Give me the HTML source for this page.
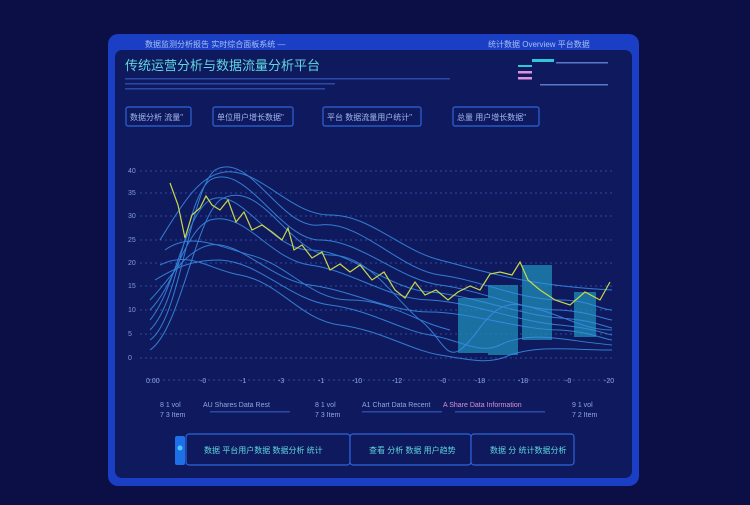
<!DOCTYPE html>
<html><head><meta charset="utf-8"><style>
body{margin:0;width:750px;height:500px;background:#0c0f45;overflow:hidden;font-family:"Liberation Sans","Noto Sans CJK SC",sans-serif}
</style></head><body>
<svg width="750" height="500" viewBox="0 0 750 500" xmlns="http://www.w3.org/2000/svg" font-family="Liberation Sans, Noto Sans CJK SC, sans-serif">
<rect width="750" height="500" fill="#0c0f45"/>
<rect x="108" y="34" width="531" height="452" rx="10" fill="#1a3ec4"/>
<rect x="115" y="50" width="517" height="428" rx="7" fill="#0f1a5e"/>
<text x="145" y="47" font-size="8" fill="#a8c0f0">数据监测分析报告 实时综合面板系统 —</text>
<text x="488" y="47" font-size="8" fill="#a8c0f0">统计数据 Overview 平台数据</text>
<text x="125" y="70" font-size="13" fill="#5fd6e0">传统运营分析与数据流量分析平台</text>
<g fill="#2b4aa8"><rect x="125" y="78" width="325" height="1.5"/><rect x="125" y="83" width="210" height="1.5"/><rect x="125" y="88" width="200" height="1.5"/></g>
<rect x="532" y="59" width="22" height="3" fill="#30c8d8"/><rect x="518" y="65" width="14" height="2" fill="#30c8d8"/>
<rect x="518" y="71" width="14" height="2.5" fill="#e090e0"/><rect x="518" y="77" width="14" height="2.5" fill="#e090e0"/>
<rect x="556" y="62" width="52" height="1.5" fill="#5a78c8"/><rect x="540" y="84" width="68" height="1.5" fill="#5a78c8"/>
<g fill="none" stroke="#2e63d8" stroke-width="1.2">
<rect x="126" y="107" width="65" height="19" rx="2"/><rect x="213" y="107" width="80" height="19" rx="2"/>
<rect x="323" y="107" width="98" height="19" rx="2"/><rect x="453" y="107" width="86" height="19" rx="2"/></g>
<g font-size="8" fill="#9fb8f0"><text x="130" y="120">数据分析 流量"</text><text x="217" y="120">单位用户增长数据"</text><text x="327" y="120">平台 数据流量用户统计"</text><text x="457" y="120">总量 用户增长数据"</text></g>
<g stroke="#3c56b0" stroke-dasharray="2 3" stroke-width="0.8">
<line x1="140" y1="171" x2="612" y2="171"/><line x1="140" y1="193" x2="612" y2="193"/><line x1="140" y1="216" x2="612" y2="216"/><line x1="140" y1="240" x2="612" y2="240"/><line x1="140" y1="263" x2="612" y2="263"/><line x1="140" y1="286" x2="612" y2="286"/><line x1="140" y1="310" x2="612" y2="310"/><line x1="140" y1="334" x2="612" y2="334"/><line x1="140" y1="358" x2="612" y2="358"/><line x1="148" y1="380" x2="612" y2="380"/></g>
<g font-size="7" fill="#7f9ae0"><text x="128" y="173">40</text><text x="128" y="195">35</text><text x="128" y="218">30</text><text x="128" y="242">25</text><text x="128" y="265">20</text><text x="128" y="288">15</text><text x="128" y="312">10</text><text x="128" y="336">5</text><text x="128" y="360">0</text></g>
<g fill="#1e8fb8" opacity="0.75">
<rect x="458" y="298" width="30" height="55"/><rect x="488" y="285" width="30" height="70"/><rect x="522" y="265" width="30" height="75"/><rect x="574" y="292" width="22" height="45"/></g>
<g fill="none" stroke="#3a8ee8" stroke-width="1" opacity="0.85">
<path d="M150 340 C180 320 190 190 215 170 C250 150 280 230 320 225 C360 220 400 270 440 275 C480 280 520 300 560 300 C590 300 600 310 612 310"/>
<path d="M150 330 C180 300 185 200 210 180 C245 160 280 240 320 240 C360 240 400 280 440 285 C480 290 520 310 560 310 C590 312 600 318 612 320"/>
<path d="M150 320 C175 290 185 215 210 200 C240 185 270 250 310 250 C350 250 390 290 430 292 C470 295 520 315 560 318 C590 320 600 325 612 328"/>
<path d="M150 310 C175 285 185 230 210 220 C245 210 270 260 310 265 C350 270 390 300 430 300 C470 302 520 322 560 325 C590 328 600 332 612 335"/>
<path d="M150 300 C170 280 185 250 210 245 C240 240 270 280 310 285 C350 290 390 312 430 312 C470 312 520 330 560 330 C590 332 600 338 612 340"/>
<path d="M150 350 C180 330 195 220 220 200 C260 175 290 255 330 255 C370 255 395 300 420 320 C440 335 445 360 460 350 C480 335 490 300 520 305 C560 312 580 330 612 330"/>
<path d="M155 280 C180 265 195 260 220 260 C260 262 290 300 330 305 C370 310 400 330 430 335 C460 340 480 355 500 345 C530 330 560 340 612 345"/>
<path d="M160 265 C190 250 210 270 240 275 C280 282 300 320 340 325 C380 330 410 350 440 355 C470 360 490 365 510 355 C540 345 570 350 612 350"/>
<path d="M165 250 C190 232 215 245 250 255 C290 265 310 300 350 300 C390 300 410 320 450 330"/>
<path d="M160 240 C185 200 200 175 225 172 C260 168 290 215 330 215 C370 215 400 250 440 260 C480 270 520 285 612 290"/>
</g>
<path d="M170 183 L178 205 L185 238 L192 215 L200 208 L206 196 L212 205 L220 210 L228 200 L236 222 L244 212 L252 230 L262 225 L272 232 L282 240 L288 228 L294 250 L302 245 L312 258 L322 252 L330 270 L340 264 L350 272 L360 265 L372 280 L384 272 L395 290 L405 298 L415 282 L425 295 L436 290 L448 300 L458 292 L470 286 L480 290 L490 274 L500 272 L512 275 L520 262 L528 280 L540 290 L555 300 L570 305 L585 292 L600 300 L610 282" fill="none" stroke="#c8d84a" stroke-width="1.2"/>
<g font-size="7" fill="#8ea6e0"><text x="146" y="383">0:00</text><text x="200" y="383">-0</text><text x="240" y="383">-1</text><text x="278" y="383">-3</text><text x="318" y="383">-1</text><text x="352" y="383">-10</text><text x="392" y="383">-12</text><text x="440" y="383">-0</text><text x="475" y="383">-18</text><text x="518" y="383">-18</text><text x="565" y="383">-0</text><text x="604" y="383">-20</text></g>
<g font-size="7" fill="#8ea6e0"><text x="160" y="407">8 1 vol</text><text x="160" y="417">7 3 Item</text><text x="203" y="407">AU Shares Data Rest</text><text x="315" y="407">8 1 vol</text><text x="315" y="417">7 3 Item</text><text x="362" y="407">A1 Chart Data Recent</text><text x="572" y="407">9 1 vol</text><text x="572" y="417">7 2 Item</text></g>
<text x="443" y="407" font-size="7" fill="#d890d8">A Share Data Information</text>
<g fill="#2b4aa8"><rect x="210" y="411" width="80" height="1.5"/><rect x="362" y="411" width="80" height="1.5"/><rect x="455" y="411" width="90" height="1.5"/></g>
<rect x="175" y="436" width="10" height="29" rx="2" fill="#1e70e8"/><circle cx="180" cy="448" r="2.5" fill="#50c8ff"/>
<g fill="#0f1a5e" stroke="#2e63d8" stroke-width="1.2"><rect x="186" y="434" width="164" height="31" rx="3"/><rect x="350" y="434" width="121" height="31" rx="3"/><rect x="471" y="434" width="103" height="31" rx="3"/></g>
<g font-size="8" fill="#5fd6e0"><text x="204" y="453">数据 平台用户数据 数据分析 统计</text><text x="369" y="453">查看 分析 数据 用户趋势</text><text x="490" y="453">数据 分 统计数据分析</text></g>
</svg>
</body></html>
